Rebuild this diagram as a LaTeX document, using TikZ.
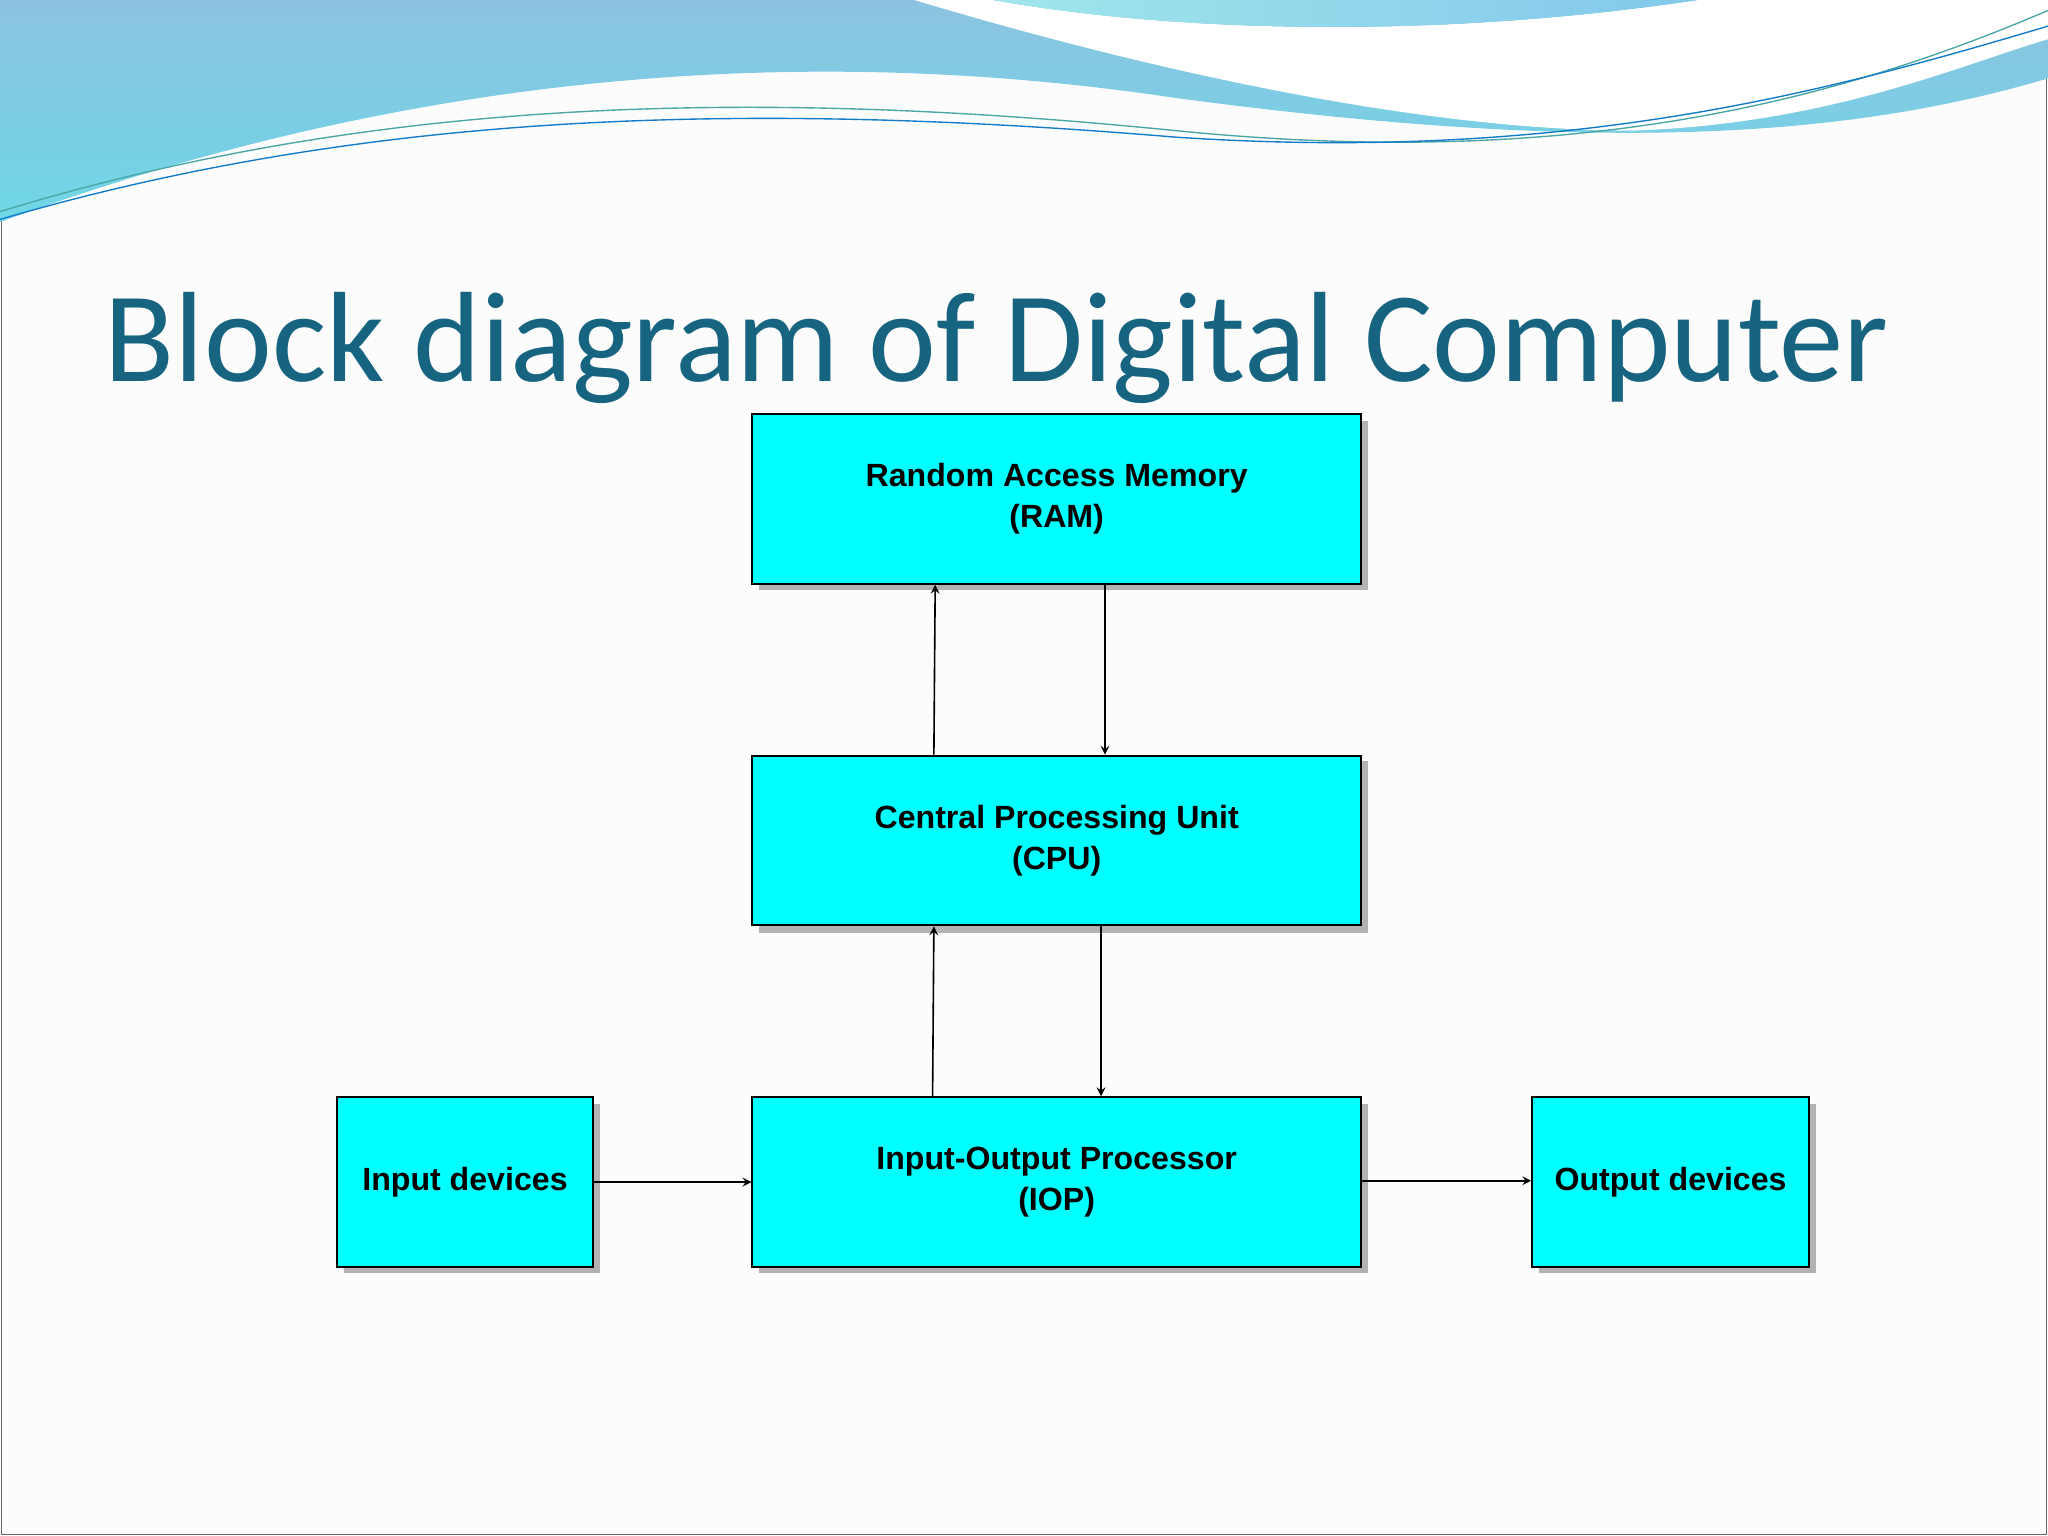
\documentclass[tikz,border=0pt]{standalone}
\usepackage{fontspec}
\setmainfont{Liberation Sans}
\newfontfamily\titlefont{Carlito}
\definecolor{boxc}{RGB}{0,255,255}
\definecolor{titc}{RGB}{22,100,128}
\definecolor{wa}{RGB}{110,215,230}
\definecolor{wb}{RGB}{140,195,225}
\definecolor{wc}{RGB}{130,200,235}
\definecolor{wd}{RGB}{160,230,235}
\begin{document}
\begin{tikzpicture}[x=0.02cm,y=-0.02cm,
  blk/.style={draw=black,fill=boxc,line width=0.8pt,minimum height=130*0.02cm,align=center,
    font=\bfseries\fontsize{14}{18}\selectfont,inner sep=0pt},
  shd/.style={fill=black!30},
  arr/.style={-stealth,line width=0.7pt}]
\useasboundingbox (0,0) rectangle (1568,1176);
\fill[black!1] (0,0) rectangle (1568,1176);
\draw[black!60] (1,1) rectangle (1567,1175);
% top waves
\shade[bottom color=wa,top color=wb] (0,0) -- (0,170) .. controls (300,60) and (600,30) .. (900,75) .. controls (1200,115) and (1400,110) .. (1568,60) -- (1568,0) -- cycle;
\fill[white] (700,0) .. controls (900,60) and (1100,100) .. (1250,100) .. controls (1400,95) and (1500,50) .. (1568,30) -- (1568,0) -- (1300,0) .. controls (1100,30) and (900,25) .. (760,0) -- cycle;
\shade[left color=wd,right color=wc] (760,0) .. controls (900,25) and (1100,30) .. (1300,0) -- cycle;
\draw[teal!70,line width=0.6pt] (0,162) .. controls (300,70) and (600,70) .. (900,100) .. controls (1200,130) and (1400,80) .. (1568,8);
\draw[cyan!60!blue,line width=0.6pt] (0,168) .. controls (300,80) and (600,80) .. (900,105) .. controls (1200,125) and (1400,70) .. (1568,20);
% title
\node[anchor=base west,inner sep=0pt,text=titc,font=\titlefont\fontsize{56}{60}\selectfont] (title) at (80,292) {Block diagram of Digital Computer};
% shadows
\foreach \a/\b/\c/\d in {576/317/1042/447,576/578/1042/709,576/840/1042/970,258/840/454/970,1173/840/1385/970}
  \fill[shd] (\a+5,\b+5) rectangle (\c+5,\d+5);
% boxes
\node[blk,minimum width=466*0.02cm] (ram) at (809,382) {Random Access Memory\\(RAM)};
\node[blk,minimum width=466*0.02cm] (cpu) at (809,643.5) {Central Processing Unit\\(CPU)};
\node[blk,minimum width=466*0.02cm] (iop) at (809,905) {Input-Output Processor\\(IOP)};
\node[blk,minimum width=196*0.02cm] (in) at (356,905) {Input devices};
\node[blk,minimum width=212*0.02cm] (out) at (1279,905) {Output devices};
% arrows
\draw[arr] (cpu.north -| 715,0) -- (ram.south -| 716,0);
\draw[arr] (ram.south -| 846,0) -- (cpu.north -| 846,0);
\draw[arr] (iop.north -| 714,0) -- (cpu.south -| 715,0);
\draw[arr] (cpu.south -| 843,0) -- (iop.north -| 843,0);
\draw[arr] (in.east) -- (iop.west);
\draw[arr] (iop.east |- 0,904) -- (out.west |- 0,904);
\end{tikzpicture}
\end{document}
